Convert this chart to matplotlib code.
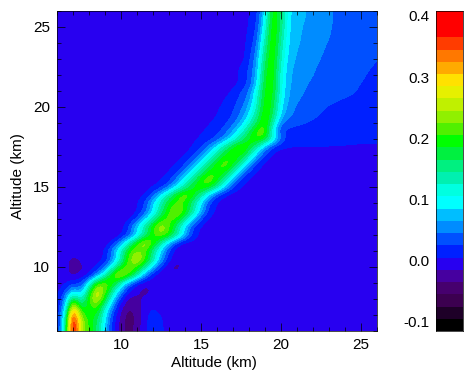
import numpy as np
import matplotlib
matplotlib.use('Agg')
import matplotlib.pyplot as plt
from matplotlib.colors import ListedColormap, BoundaryNorm
from matplotlib.ticker import MultipleLocator

plt.rcParams['font.family'] = ['Liberation Sans', 'DejaVu Sans']
plt.rcParams['font.size'] = 11

# altitude grid (km), 0.5 km steps
alt = [6 + .5 * i for i in range(41)]
background = -.005

# values: each altitude row is (first x in km, values every 0.5 km),
# bottom row first, everything outside a segment is the flat background
rows = [
    (6, [.000, .120, .430, .250, .200, .170, .070, .010, -.025, -.045, -.025, .000, .020, .010]),
    (6, [.000, .120, .430, .250, .200, .170, .090, .015, -.025, -.048, -.028, .000, .020, .010]),
    (6, [.000, .100, .400, .220, .190, .190, .100, .020, -.020, -.048, -.028, .000, .015, .005]),
    (6, [.000, .070, .310, .170, .190, .220, .130, .050, -.010, -.035, -.025, -.005, .005]),
    (6, [.000, .050, .200, .110, .210, .270, .190, .090, .015, -.022, -.020, -.010, -.005]),
    (6, [.000, .020, .090, .050, .170, .280, .220, .150, .060, .005, -.012, -.024, -.012]),
    (6, [-.005, .000, .020, .020, .100, .210, .225, .200, .130, .050, .005, -.012, -.008]),
    (6.5, [-.006, -.022, -.010, .000, .050, .130, .220, .265, .220, .150, .060, .005, -.015, -.015]),
    (6.5, [-.006, -.028, -.020, -.005, .005, .040, .120, .190, .225, .210, .150, .080, .020, -.015, -.025]),
    (6.5, [-.006, -.022, -.010, -.005, -.005, .005, .050, .130, .220, .265, .220, .150, .070, .015, -.012, -.015]),
    (8, [-.012, -.018, .015, .060, .130, .205, .225, .210, .150, .080, .020, -.008, -.012]),
    (8.5, [-.022, -.012, .020, .060, .140, .210, .265, .210, .150, .070, .015, -.008]),
    (9, [-.010, -.020, .005, .025, .080, .140, .200, .225, .210, .150, .080, .020, .000]),
    (9.5, [-.018, -.005, .030, .090, .150, .210, .255, .210, .150, .080, .020, .000]),
    (10, [-.012, .005, .030, .080, .140, .195, .220, .205, .150, .085, .025, .000]),
    (10.5, [-.020, .005, .030, .085, .150, .205, .245, .205, .150, .080, .020, .000]),
    (11, [.002, .030, .085, .140, .190, .210, .200, .150, .085, .025, .002]),
    (11.5, [.005, .035, .090, .150, .200, .235, .200, .150, .080, .025, .002]),
    (12, [.005, .012, .045, .095, .145, .190, .210, .200, .150, .080, .025, .003]),
    (12.5, [.005, .015, .050, .100, .150, .200, .230, .200, .150, .075, .022, .002]),
    (13, [.005, .018, .050, .100, .145, .190, .210, .200, .150, .075, .025, .003]),
    (13.5, [.006, .020, .052, .100, .150, .195, .225, .200, .150, .075, .022, .002]),
    (14, [.006, .022, .052, .100, .145, .190, .205, .195, .145, .072, .022, .003]),
    (14.5, [.006, .022, .052, .100, .150, .195, .220, .195, .140, .065, .016, .007, .006, .006, .006, .006, .006, .006, .005, .005, .004, .004, .003, .003]),
    (14.5, [.002, .008, .016, .030, .060, .105, .150, .190, .215, .195, .125, .045, .014, .010, .010, .010, .009, .009, .009, .009, .008, .008, .008, .008]),
    (15, [.004, .010, .018, .035, .065, .110, .165, .215, .225, .100, .022, .020, .017, .016, .015, .014, .013, .012, .012, .011, .011, .010, .010]),
    (15.5, [.005, .012, .020, .040, .070, .120, .170, .220, .140, .045, .035, .030, .027, .023, .020, .018, .017, .016, .015, .014, .013, .013]),
    (16, [.006, .014, .026, .050, .090, .150, .215, .170, .080, .050, .040, .032, .028, .025, .023, .021, .020, .019, .018, .017, .016]),
    (16, [.003, .010, .022, .040, .070, .130, .210, .180, .090, .055, .042, .037, .032, .026, .024, .023, .022, .021, .020, .019, .018]),
    (16.5, [.007, .016, .030, .055, .120, .205, .190, .100, .062, .048, .041, .036, .031, .028, .026, .025, .024, .023, .021, .020]),
    (17, [.011, .025, .045, .110, .200, .200, .105, .065, .052, .045, .040, .034, .030, .028, .027, .026, .024, .023, .021]),
    (17.5, [.010, .027, .080, .195, .205, .108, .068, .054, .047, .043, .037, .032, .029, .028, .027, .025, .023, .021]),
    (17.5, [.012, .028, .075, .190, .210, .110, .070, .056, .050, .046, .040, .036, .032, .030, .029, .027, .024, .022]),
    (17.5, [.008, .024, .065, .180, .210, .115, .072, .059, .052, .048, .042, .038, .034, .031, .030, .028, .026, .024]),
    (18, [.020, .060, .170, .215, .125, .075, .063, .055, .050, .045, .040, .036, .033, .031, .029, .027, .025]),
    (18, [.016, .050, .155, .218, .132, .078, .065, .057, .052, .047, .042, .038, .034, .032, .030, .028, .026]),
    (18, [.012, .040, .140, .220, .140, .080, .068, .060, .054, .049, .044, .040, .036, .033, .031, .029, .027]),
    (18, [.009, .032, .125, .220, .150, .082, .069, .062, .056, .051, .046, .041, .037, .034, .032, .030, .028]),
    (18, [.006, .025, .110, .220, .160, .083, .070, .063, .057, .052, .047, .042, .038, .035, .033, .031, .029]),
    (18, [.005, .020, .100, .215, .165, .084, .073, .065, .059, .054, .047, .043, .039, .036, .034, .032, .030]),
    (18, [.004, .015, .090, .210, .170, .085, .075, .066, .060, .055, .047, .043, .040, .037, .034, .032, .030]),
]

# faint negative spot at the top edge
spot_x = [15.5]
spot_y = [26]
spot_v = [-.020]

# colour bar bands, bottom to top
band_colors = ['#000000', '#1e0028', '#3c0050', '#46006e', '#4600a0', '#2800f0',
               '#0020ff', '#0050ff', '#008cff', '#00beff', '#00ffff', '#00ffe0',
               '#00f0b0', '#00f080', '#00f040', '#00ff00', '#50f000', '#90f000',
               '#c0f000', '#e6f000', '#ffe100', '#ffaa00', '#ff7800', '#ff3c00',
               '#ff0000', '#ff0000']
levels = [-.115, -.095, -.075, -.055, -.035, -.015, .005, .025, .045, .065, .085,
          .105, .125, .145, .165, .185, .205, .225, .245, .265, .285, .305, .325,
          .345, .365, .385, .408]
cbar_ticks = [-0.1, 0.0, 0.1, 0.2, 0.3, 0.4]

kernel = np.full((len(alt), len(alt)), background)
for j, (start, vals) in enumerate(rows):
    i0 = alt.index(start)
    kernel[j, i0:i0 + len(vals)] = vals
for x, y, v in zip(spot_x, spot_y, spot_v):
    kernel[alt.index(y), alt.index(x)] = v

cmap = ListedColormap(band_colors)
norm = BoundaryNorm(levels, cmap.N)

fig = plt.figure(figsize=(4.74, 3.81), dpi=100)
W, H = 474, 381

ax = fig.add_axes([57 / W, 1 - 331 / H, 320 / W, 320 / H])
ax.imshow(kernel, origin='lower', cmap=cmap, norm=norm,
          extent=[alt[0] - .25, alt[-1] + .25, alt[0] - .25, alt[-1] + .25],
          interpolation='bicubic', interpolation_stage='data', aspect='auto')
ax.set_xlim(6, 26)
ax.set_ylim(6, 26)
ax.xaxis.set_major_locator(MultipleLocator(5))
ax.xaxis.set_minor_locator(MultipleLocator(1))
ax.yaxis.set_major_locator(MultipleLocator(5))
ax.yaxis.set_minor_locator(MultipleLocator(1))
ax.tick_params(which='major', direction='in', top=True, right=True, length=6, width=.5, pad=5)
ax.tick_params(which='minor', direction='in', top=True, right=True, length=3, width=.5)
ax.set_xlabel('Altitude (km)', labelpad=3, x=.49)
ax.set_ylabel('Altitude (km)', labelpad=6, y=.484)
for s in ax.spines.values():
    s.set_linewidth(.5)

cax = fig.add_axes([436 / W, 1 - 331 / H, 27 / W, 320 / H])
cax.pcolormesh([0, 1], levels, np.array(levels[:-1]).reshape(-1, 1) + .001, cmap=cmap, norm=norm)
cax.set_xticks([])
cax.set_yticks(cbar_ticks)
cax.set_yticklabels(['%.1f' % t for t in cbar_ticks])
cax.tick_params(axis='y', length=0, pad=5)
for s in cax.spines.values():
    s.set_linewidth(.5)

fig.savefig('out.png', dpi=100)
